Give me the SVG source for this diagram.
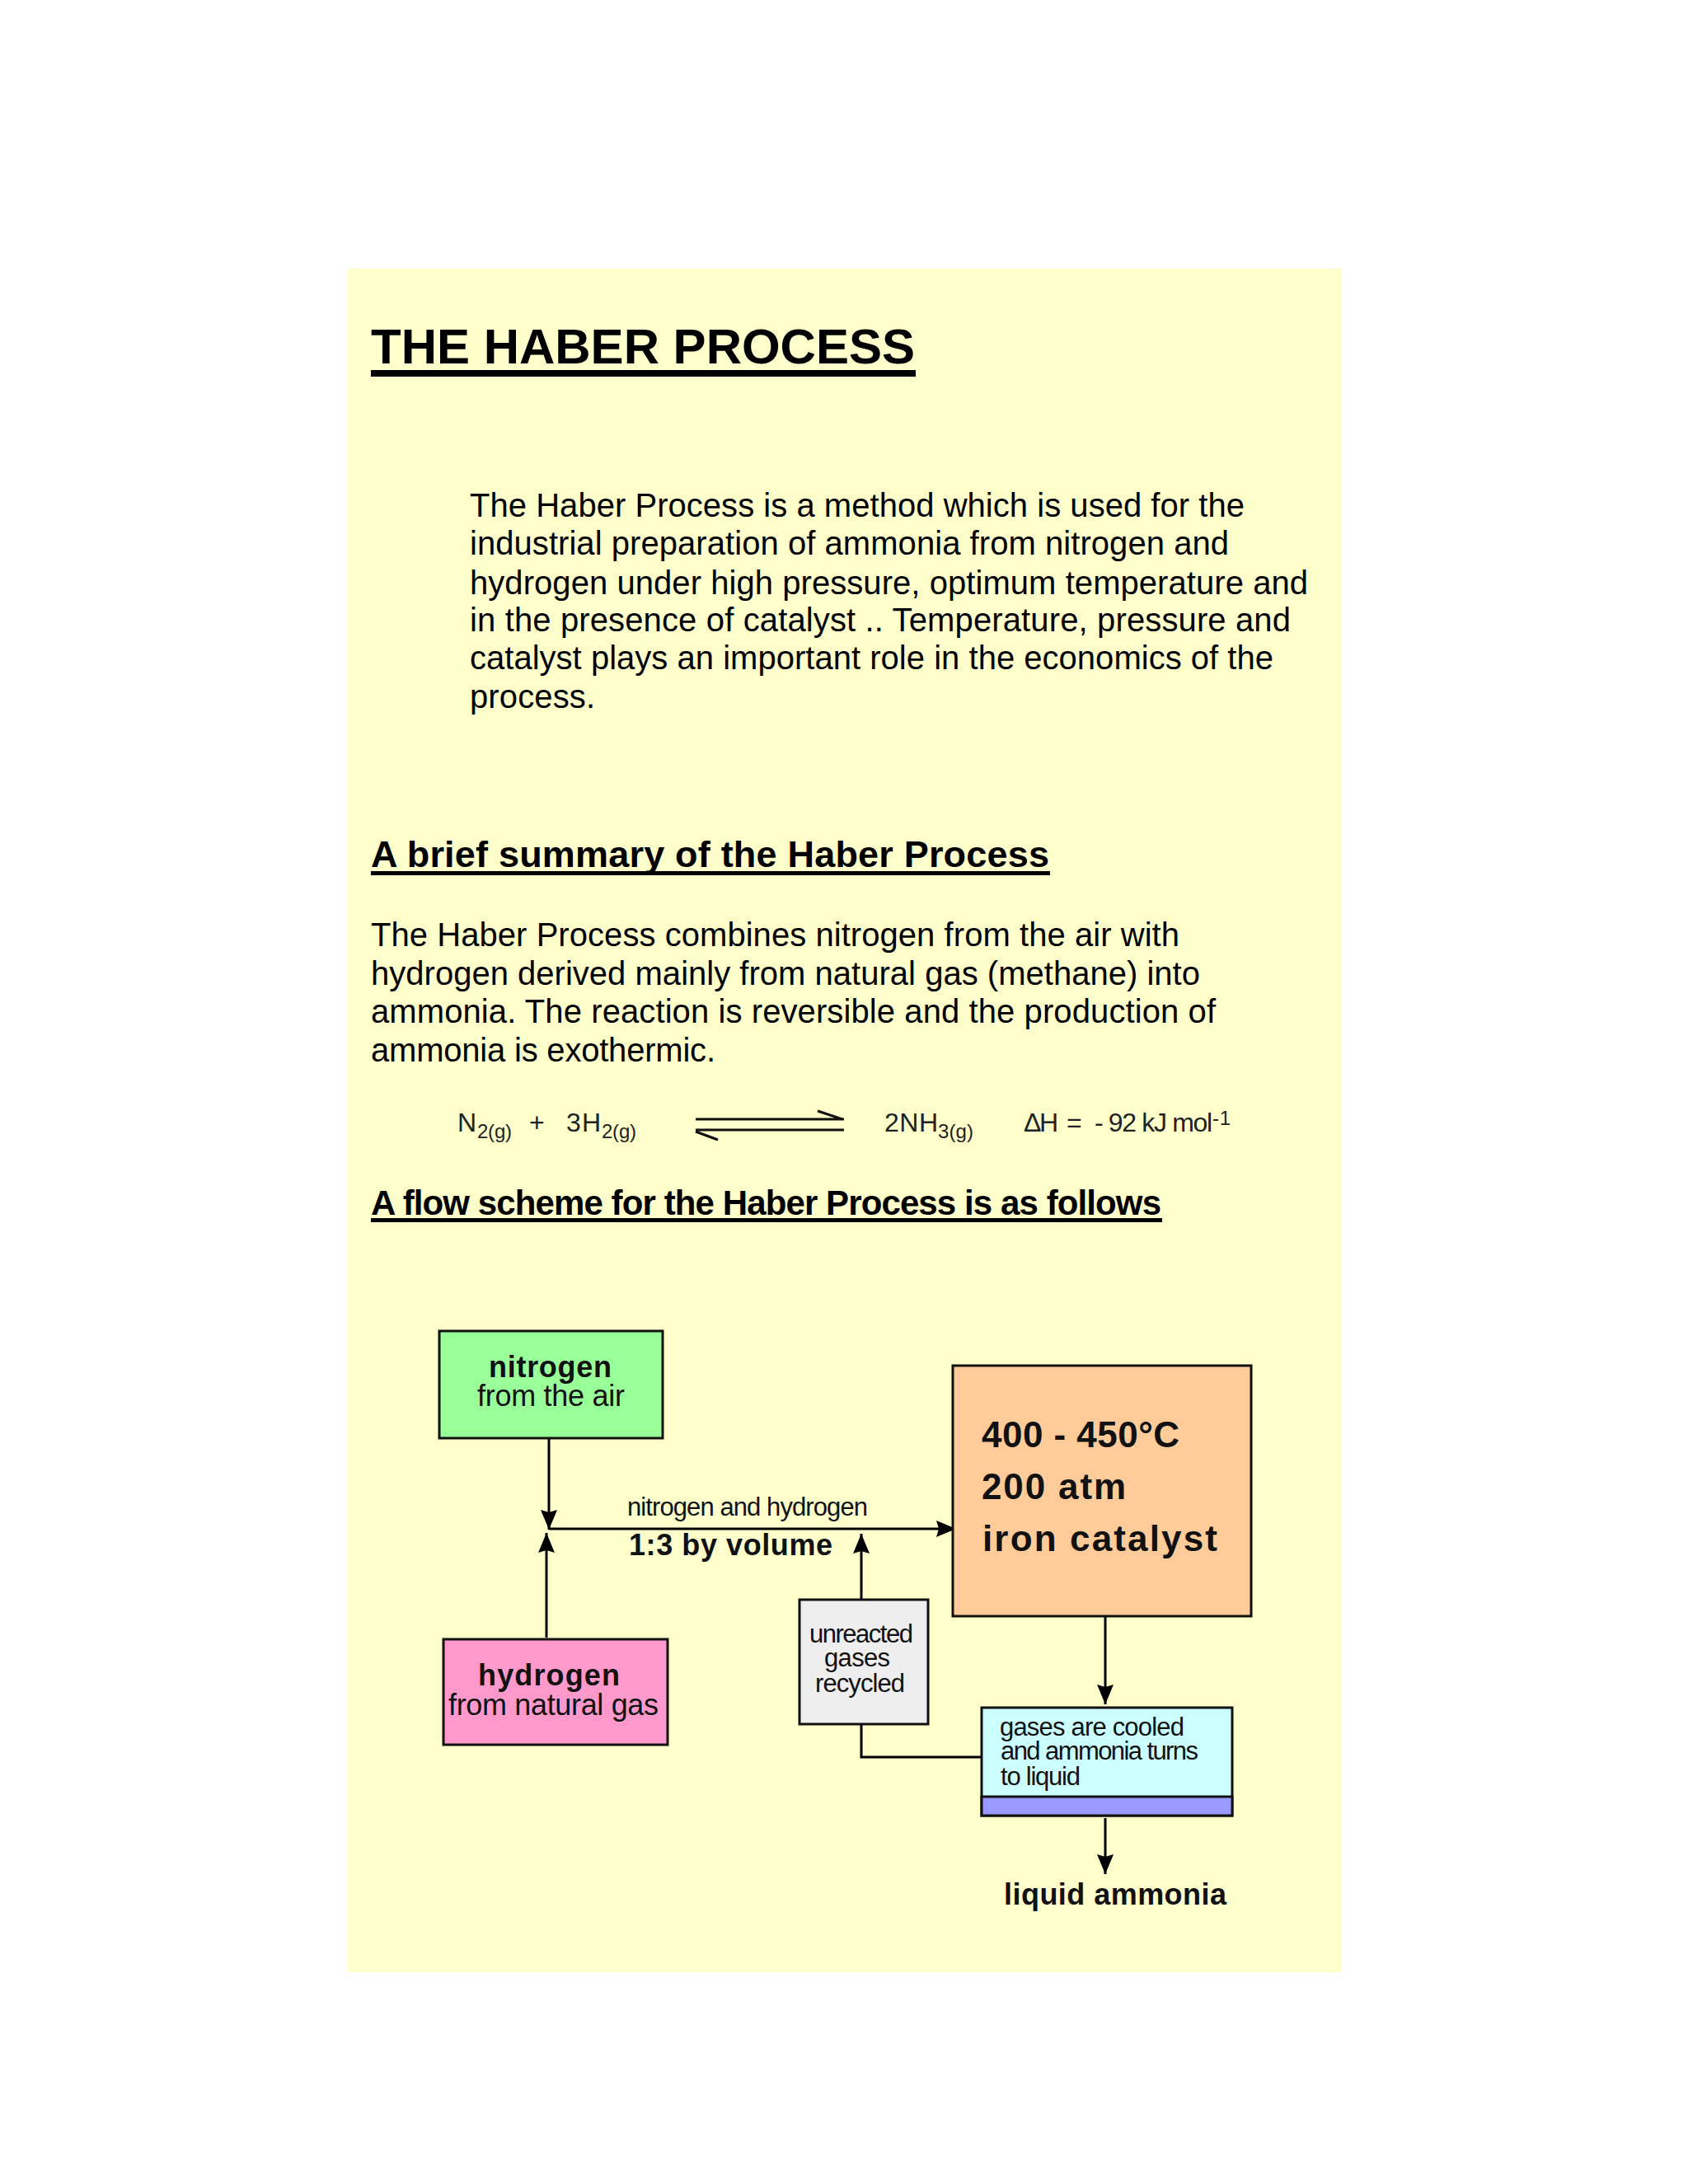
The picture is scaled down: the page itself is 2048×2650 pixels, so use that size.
<svg xmlns="http://www.w3.org/2000/svg" width="2048" height="2650" viewBox="0 0 2048 2650">
<style>
text{font-family:"Liberation Sans",Arial,sans-serif;fill:#000}
.b{font-weight:bold}
.p{font-size:40px}
.h{font-size:45px;font-weight:bold}
.f{font-size:42px;font-weight:bold}
.eq{font-size:32px;fill:#222}
.sub{font-size:24px;fill:#222}
.box{stroke:#111;stroke-width:3}
.c{fill:none;stroke:#000;stroke-width:3}
.s{font-size:31px;fill:#111}
.m{font-size:36px;fill:#111}
.l{font-size:44px;fill:#111;font-weight:bold}
</style>
<defs>
<marker id="a" viewBox="0 0 24 20" refX="24" refY="10" markerWidth="24" markerHeight="20" markerUnits="userSpaceOnUse" orient="auto"><path d="M0 0L24 10L0 20L3 10Z" fill="#000"/></marker>
</defs>
<rect width="2048" height="2650" fill="#fff"/>
<rect x="422" y="326" width="1206" height="2067" fill="#ffffcc"/>
<g id="title"><text class="b" x="450" y="441" font-size="60" textLength="660">THE HABER PROCESS</text><rect x="450" y="449" width="661" height="8"/></g>
<g id="intro">
<text class="p" x="570" y="627" textLength="940">The Haber Process is a method which is used for the</text>
<text class="p" x="570" y="673" textLength="921">industrial preparation of ammonia from nitrogen and</text>
<text class="p" x="570" y="721" textLength="1017">hydrogen under high pressure, optimum temperature and</text>
<text class="p" x="570" y="766" textLength="996">in the presence of catalyst .. Temperature, pressure and</text>
<text class="p" x="570" y="812" textLength="975">catalyst plays an important role in the economics of the</text>
<text class="p" x="570" y="859" textLength="152">process.</text>
</g>
<g id="summary"><text class="h" x="450" y="1052" textLength="823">A brief summary of the Haber Process</text><rect x="450" y="1057" width="824" height="5"/>
<text class="p" x="450" y="1148" textLength="981">The Haber Process combines nitrogen from the air with</text>
<text class="p" x="450" y="1195" textLength="1006">hydrogen derived mainly from natural gas (methane) into</text>
<text class="p" x="450" y="1241" textLength="1025">ammonia. The reaction is reversible and the production of</text>
<text class="p" x="450" y="1288" textLength="418">ammonia is exothermic.</text>
</g>
<g id="equation">
<text class="eq" x="555" y="1373">N</text><text class="sub" x="579" y="1381" textLength="42">2(g)</text>
<text class="eq" x="642" y="1373">+</text>
<text class="eq" x="687" y="1373" textLength="42">3H</text><text class="sub" x="730" y="1381" textLength="42">2(g)</text>
<path d="M844 1358H1024M992 1348L1022 1358M844 1371H1024M844 1373L871 1383" fill="none" stroke="#111" stroke-width="3"/>
<text class="eq" x="1073" y="1373" textLength="65">2NH</text><text class="sub" x="1138" y="1381" textLength="43">3(g)</text>
<text class="eq" x="1242" y="1373" textLength="42">ΔH</text><text class="eq" x="1294" y="1373">=</text><text class="eq" x="1328" y="1373" textLength="143">- 92 kJ mol</text><text class="sub" x="1471" y="1365" textLength="22">-1</text>
</g>
<g id="flowhead"><text class="f" x="450" y="1474" textLength="959">A flow scheme for the Haber Process is as follows</text><rect x="450" y="1478" width="960" height="5"/></g>
<g id="connectors">
<path class="c" d="M666 1745V1856" marker-end="url(#a)"/>
<path class="c" d="M663 1987V1860" marker-end="url(#a)"/>
<path class="c" d="M666 1855H1160" marker-end="url(#a)"/>
<path class="c" d="M1045 1941V1861" marker-end="url(#a)"/>
<path class="c" d="M1191 2132H1045V2092"/>
<path class="c" d="M1341 1961V2068" marker-end="url(#a)"/>
<path class="c" d="M1341 2206V2274" marker-end="url(#a)"/>
</g>
<g id="nitrogen"><rect class="box" x="533" y="1615" width="271" height="130" fill="#99ff99"/><text class="b m" x="593" y="1671" textLength="149">nitrogen</text><text class="m" x="579" y="1706" textLength="179">from the air</text></g>
<g id="hydrogen"><rect class="box" x="538" y="1989" width="272" height="128" fill="#ff99cc"/><text class="b m" x="580" y="2045" textLength="172">hydrogen</text><text class="m" x="544" y="2081" textLength="255">from natural gas</text></g>
<g id="mix-label"><text class="s" x="761" y="1839" textLength="292">nitrogen and hydrogen</text><text class="b m" x="763" y="1887" font-size="34" textLength="247">1:3 by volume</text></g>
<g id="recycle"><rect class="box" x="970" y="1941" width="156" height="151" fill="#eeeeee"/><text class="s" x="982" y="1993" textLength="126">unreacted</text><text class="s" x="1000" y="2022" textLength="80">gases</text><text class="s" x="989" y="2053" textLength="109">recycled</text></g>
<g id="reactor"><rect class="box" x="1156" y="1657" width="362" height="304" fill="#ffcc99"/><text class="l" x="1191" y="1756" textLength="240">400 - 450°C</text><text class="l" x="1191" y="1819" textLength="175">200 atm</text><text class="l" x="1192" y="1882" font-size="46" textLength="285">iron catalyst</text></g>
<g id="cooler"><rect class="box" x="1191" y="2072" width="304" height="131" fill="#ccffff"/><rect class="box" x="1191" y="2180" width="304" height="23" fill="#9999ff"/><text class="s" x="1213" y="2106" textLength="224">gases are cooled</text><text class="s" x="1214" y="2135" textLength="240">and ammonia turns</text><text class="s" x="1214" y="2166" textLength="97">to liquid</text></g>
<g id="product"><text class="b m" x="1218" y="2311" textLength="270">liquid ammonia</text></g>
</svg>
